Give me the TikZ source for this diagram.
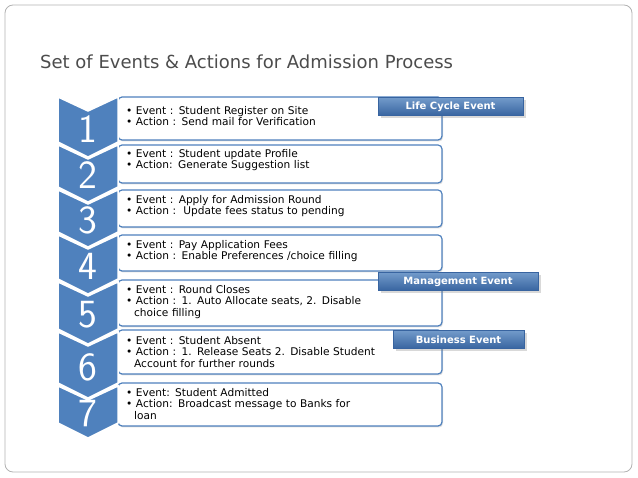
\documentclass[tikz,border=0pt]{standalone}
\usepackage{fontspec}
\setmainfont{DejaVu Sans}
\usetikzlibrary{shadows}
\definecolor{cblue}{RGB}{79,129,189}
\definecolor{dblue}{RGB}{56,100,160}
\begin{document}
\begin{tikzpicture}[x=1pt,y=-1pt,
 box/.style={draw=cblue,line width=1.2pt,rounded corners=4pt,fill=white,drop shadow={opacity=0.25,shadow xshift=1pt,shadow yshift=-1.5pt}},
 txt/.style={anchor=north west,font=\fontsize{10.6}{11.6}\selectfont,text width=315pt,align=left,inner sep=0pt},
 num/.style={text=white,font=\fontsize{40}{40}\selectfont\sffamily},
 tag/.style={draw=dblue,top color=cblue!80!white,bottom color=dblue,text=white,font=\bfseries\fontsize{10}{11}\selectfont,minimum height=18pt,inner sep=2pt,drop shadow={opacity=0.3}}]
\useasboundingbox (0,0) rectangle (638,478);
\draw[gray!60,rounded corners=8pt,line width=0.8pt] (5,5) rectangle (632,472);
\node[anchor=west,text=black!70,font=\fontsize{18}{20}\selectfont,inner sep=0pt] (title) at (40,62) {Set of Events \& Actions for Admission Process};
\foreach \i/\t/\b in {1/97/140,2/145/183,3/190/227,4/235/271,5/280/326,6/330/374,7/383/426}{
 \draw[box] (118,\t) rectangle (442,\b);
}
\foreach \i/\ctop/\cnext in {7/386/426,6/332/386,5/282/332,4/235/282,3/190/235,2/145/190,1/97/145}{
 \draw[fill=cblue,draw=white,line width=1.5pt,line join=miter] (58,\ctop) -- (88,\ctop+14) -- (118,\ctop) -- (118,\cnext-3) -- (88,\cnext+12) -- (58,\cnext-3) -- cycle;
 \node[num] (n\i) at (88,{(\ctop+\cnext)/2+8}) {\i};
}
\node[txt] (t1) at (126,106) {• Event : Student Register on Site\\• Action : Send mail for Verification};
\node[txt] (t2) at (126,149) {• Event : Student update Profile\\• Action: Generate Suggestion list};
\node[txt] (t3) at (126,195) {• Event : Apply for Admission Round\\• Action :\ \ Update fees status to pending};
\node[txt] (t4) at (126,240) {• Event : Pay Application Fees\\• Action : Enable Preferences /choice filling};
\node[txt] (t5) at (126,285) {• Event : Round Closes\\• Action : 1. Auto Allocate seats, 2. Disable\\\hspace*{0.75em}choice filling};
\node[txt] (t6) at (126,336) {• Event : Student Absent\\• Action : 1. Release Seats 2. Disable Student\\\hspace*{0.75em}Account for further rounds};
\node[txt] (t7) at (126,388) {• Event: Student Admitted\\• Action: Broadcast message to Banks for\\\hspace*{0.75em}loan};
\node[tag,minimum width=145pt] (l1) at (450.5,106.5) {Life Cycle Event};
\node[tag,minimum width=160pt] (l2) at (458,281.5) {Management Event};
\node[tag,minimum width=131pt] (l3) at (458.5,339.5) {Business Event};
\end{tikzpicture}
\end{document}
